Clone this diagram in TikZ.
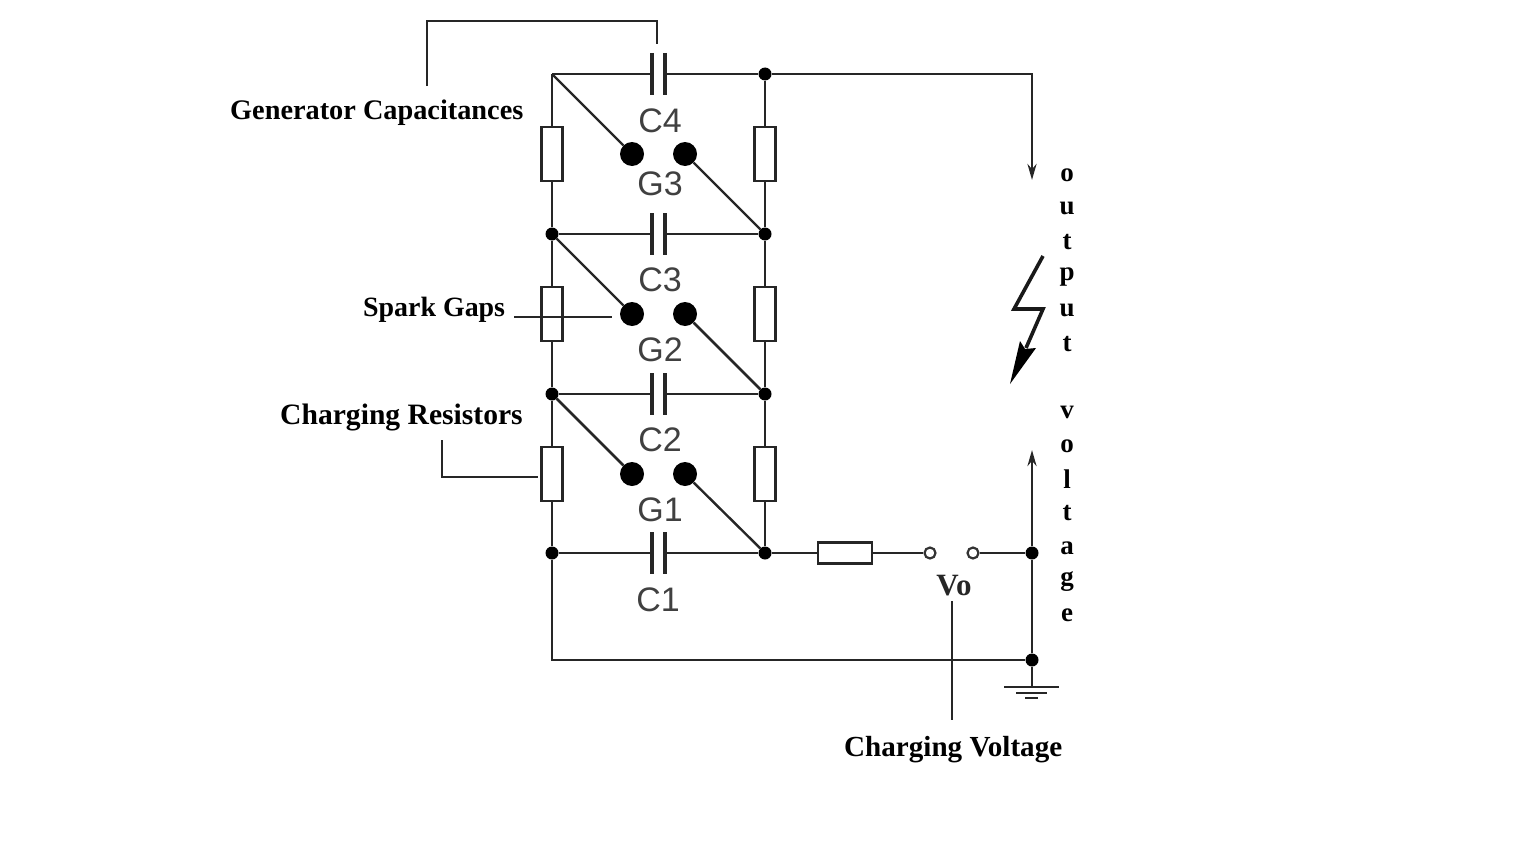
\documentclass[tikz,border=0pt]{standalone}
\usepackage{fontspec}
\setmainfont{Liberation Serif}
\newfontfamily\arialf{Liberation Sans}
\usetikzlibrary{arrows.meta}
\tikzset{
  x=1pt,y=-1pt,
  wire/.style={line width=2.7pt,draw=black!85},
  diag/.style={line width=2.4pt,draw=black!85},
  leader/.style={line width=2pt,draw=black!85},
  resbox/.style={draw=black!85,line width=2.8pt,fill=white,minimum width=21pt,minimum height=54pt,inner sep=0pt},
  resh/.style={draw=black!85,line width=2.8pt,fill=white,minimum width=54pt,minimum height=21pt,inner sep=0pt},
  junc/.style={circle,fill=black,inner sep=0pt,minimum size=13pt},
  ball/.style={circle,fill=black,inner sep=0pt,minimum size=24pt},
  term/.style={circle,draw=black!80,line width=2.2pt,fill=white,inner sep=0pt,minimum size=11pt},
  plate/.style={line width=3.2pt,draw=black!85},
  cname/.style={font=\arialf\fontsize{34}{34}\selectfont,text=black!75,inner sep=0pt},
  lbl/.style={font=\bfseries\fontsize{#1}{29}\selectfont,inner sep=0pt},
  vlbl/.style={font=\bfseries\fontsize{27}{28}\selectfont,inner sep=0pt},
}
\begin{document}
\begin{tikzpicture}
\useasboundingbox (0,0) rectangle (1515,851);
% junctions
\coordinate (TL) at (552,74);
\node[junc] (TR) at (765,74) {};
\node[junc] (L3) at (552,234) {};
\node[junc] (R3) at (765,234) {};
\node[junc] (L2) at (552,394) {};
\node[junc] (R2) at (765,394) {};
\node[junc] (L1) at (552,553) {};
\node[junc] (R1) at (765,553) {};
\node[junc] (OUT) at (1032,553) {};
\node[junc] (GND) at (1032,660) {};
\coordinate (BL) at (552,660);
\coordinate (TC) at (1032,74);
\coordinate (arrT) at (1032,180);
\coordinate (arrB) at (1032,450);
% capacitors plate coordinates
\foreach \n/\y in {4/74,3/234,2/394,1/553}{
  \coordinate (C\n a) at (652,\y);
  \coordinate (C\n b) at (665,\y);
  \draw[plate] (652,\y-21) -- (652,\y+21);
  \draw[plate] (665,\y-21) -- (665,\y+21);
}
% wires
\draw[wire] (TL) -- (C4a);
\draw[wire] (C4b) -- (TR) -- (TC) -- (1032,165);
\draw[wire] (L3) -- (C3a) (C3b) -- (R3);
\draw[wire] (L2) -- (C2a) (C2b) -- (R2);
\draw[wire] (L1) -- (C1a) (C1b) -- (R1);
\draw[wire,line join=miter] (TL) -- (L3) -- (L2) -- (L1) -- (BL) -- (GND);
\draw[wire] (TR) -- (R3) -- (R2) -- (R1);
\draw[wire] (GND) -- (OUT) -- (1032,465);
\draw[-{Stealth[length=16pt,width=9pt]},wire] (1032,150) -- (arrT);
\draw[-{Stealth[length=16pt,width=9pt]},wire] (1032,480) -- (arrB);
% resistors
\node[resbox] (RL3) at (552,154) {};
\node[resbox] (RR3) at (765,154) {};
\node[resbox] (RL2) at (552,314) {};
\node[resbox] (RR2) at (765,314) {};
\node[resbox] (RL1) at (552,474) {};
\node[resbox] (RR1) at (765,474) {};
% spark gaps
\node[ball] (G3a) at (632,154) {};
\node[ball] (G3b) at (685,154) {};
\node[ball] (G2a) at (632,314) {};
\node[ball] (G2b) at (685,314) {};
\node[ball] (G1a) at (632,474) {};
\node[ball] (G1b) at (685,474) {};
\draw[diag] (TL) -- (G3a);
\draw[diag] (G3b) -- (R3);
\draw[diag] (L3) -- (G2a);
\draw[wire] (G2b) -- (R2);
\draw[wire] (L2) -- (G1a);
\draw[diag] (G1b) -- (R1);
% charging branch
\node[resh] (RC) at (845,553) {};
\node[term] (T1) at (930,553) {};
\node[term] (T2) at (973,553) {};
\draw[wire] (R1) -- (RC) -- (T1);
\draw[wire] (T2) -- (OUT);
% ground
\coordinate (E1) at (1032,688);
\draw[wire] (GND) -- (E1);
\draw[wire] (1004,687) -- (1059,687);
\draw[wire] (1016,693) -- (1047,693);
\draw[wire] (1025,698) -- (1038,698);
% texts
\node[cname] (nC4) at (660,121) {C4};
\node[cname] (nG3) at (660,184) {G3};
\node[cname] (nC3) at (660,280) {C3};
\node[cname] (nG2) at (660,350) {G2};
\node[cname] (nC2) at (660,440) {C2};
\node[cname] (nG1) at (660,510) {G1};
\node[cname] (nC1) at (658,600) {C1};
\node[font=\bfseries\fontsize{31}{31}\selectfont,inner sep=0pt,text=black!85] (nV) at (954,586) {Vo};
\node[lbl=28.3,anchor=base west] (gc) at (230,119) {Generator Capacitances};
\node[lbl=27.9,anchor=base west] (sg) at (363,316) {Spark Gaps};
\node[lbl=29.6,anchor=base west] (cr) at (280,424) {Charging Resistors};
\node[lbl=29.1,anchor=base west] (cv) at (844,756) {Charging Voltage};
% leader lines
\coordinate (g1) at (427,86);
\coordinate (g2) at (427,21);
\coordinate (g3) at (657,21);
\coordinate (g4) at (657,44);
\draw[leader] (g1) -- (g2) -- (g3) -- (g4);
\coordinate (s1) at (514,317);
\coordinate (s2) at (612,317);
\draw[leader] (s1) -- (s2);
\coordinate (r1) at (442,440);
\coordinate (r2) at (442,477);
\coordinate (r3) at (538,477);
\draw[leader] (r1) -- (r2) -- (r3);
\coordinate (v1) at (952,601);
\coordinate (v2) at (952,720);
\draw[leader] (v1) -- (v2);
% output voltage letters
\foreach \c/\y in {o/175,u/208,t/242,p/277,u/310,t/344,v/412,o/446,l/479,t/513,a/548,g/582,e/615}{
  \node[vlbl,anchor=center] at (1067,\y) {\vphantom{x}\c};
}
% lightning bolt
\coordinate (b1) at (1043,256);
\coordinate (b2) at (1014,309);
\coordinate (b3) at (1043,309);
\coordinate (b4) at (1010,384);
\draw[line width=3.6pt,draw=black!90,line join=miter] (b1) -- (b2) -- (b3) -- (1026,348);
\fill[black] (b4) -- (1020,341) -- (1025,349) -- (1036,348) -- cycle;
\end{tikzpicture}
\end{document}
